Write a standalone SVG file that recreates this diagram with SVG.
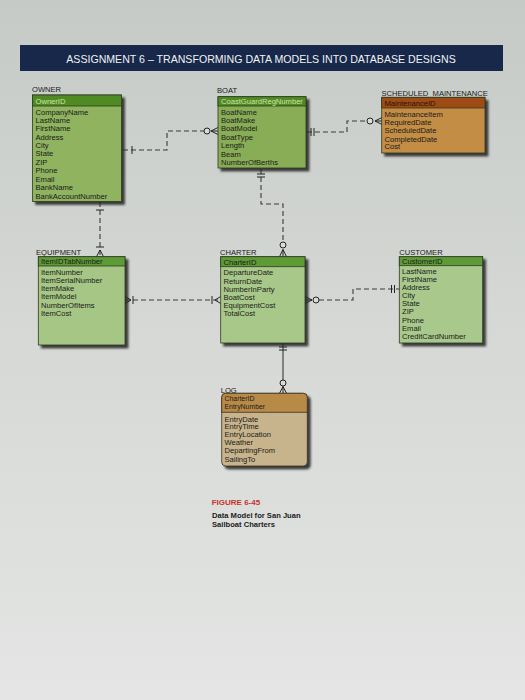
<svg xmlns="http://www.w3.org/2000/svg" width="525" height="700" viewBox="0 0 525 700">
<defs>
<linearGradient id="bg" x1="0" y1="0" x2="0" y2="1">
<stop offset="0" stop-color="#c6cac6"/>
<stop offset="0.5" stop-color="#d6d9d6"/>
<stop offset="1" stop-color="#e4e5e4"/>
</linearGradient>
<filter id="sh" x="-10%" y="-10%" width="130%" height="130%">
<feDropShadow dx="3" dy="3" stdDeviation="0.8" flood-color="#1a1a1a" flood-opacity="0.85"/>
</filter>
</defs>
<style>
text{font-family:"Liberation Sans",Arial,sans-serif;fill:#1a1a1a}
.lbl{font-size:7.6px}
.att{font-size:7.6px}
.hdr{font-size:7.6px}
.hdr2{font-size:6.9px}
.lt{fill:#cfe3a8}
.box{stroke:#2e3a22;stroke-width:0.8}
.dash{fill:none;stroke:#3a3a3a;stroke-width:1.1;stroke-dasharray:5,3}
.sol{fill:none;stroke:#3a3a3a;stroke-width:1.1}
.mk{fill:none;stroke:#222;stroke-width:1}
.ring{fill:#d8dbd8;stroke:#222;stroke-width:1}
</style>
<rect width="525" height="700" fill="url(#bg)"/>
<g id="title">
<rect x="20" y="45" width="483" height="26" fill="#17284a"/>
<text x="261" y="63" text-anchor="middle" style="font-size:10.6px;fill:#f2f2f2">ASSIGNMENT 6 – TRANSFORMING DATA MODELS INTO DATABASE DESIGNS</text>
</g>
<g id="connectors">
<path class="dash" d="M123,150 H167 V131 H204"/>
<line class="mk" x1="132" y1="146" x2="132" y2="154"/>
<circle class="ring" cx="207" cy="131" r="3"/>
<path class="mk" d="M218,127.5 L211,131 L218,134.5 M211,131 H218"/>
<path class="dash" d="M307,132 H347 V121 H367"/>
<line class="mk" x1="311" y1="128" x2="311" y2="136"/>
<line class="mk" x1="314" y1="128" x2="314" y2="136"/>
<circle class="ring" cx="370" cy="121" r="3"/>
<path class="mk" d="M382,117.5 L375,121 L382,124.5 M375,121 H382"/>
<path class="dash" d="M261,169 V204 H283 V242"/>
<line class="mk" x1="257" y1="174" x2="265" y2="174"/>
<line class="mk" x1="257" y1="177" x2="265" y2="177"/>
<circle class="ring" cx="283" cy="245" r="3"/>
<path class="mk" d="M279.5,256.7 L283,249.5 L286.5,256.7 M283,249.5 V256.7"/>
<path class="dash" d="M100,202 V256.7"/>
<line class="mk" x1="96" y1="210" x2="104" y2="210"/>
<line class="mk" x1="96" y1="247" x2="104" y2="247"/>
<path class="mk" d="M96.5,256.7 L100,250 L103.5,256.7"/>
<path class="dash" d="M125,300 H220.7"/>
<path class="mk" d="M125,296.5 L131,300 L125,303.5"/>
<line class="mk" x1="133" y1="296" x2="133" y2="304"/>
<line class="mk" x1="212" y1="296" x2="212" y2="304"/>
<path class="mk" d="M220.7,296.5 L215,300 L220.7,303.5"/>
<path class="dash" d="M319,300 H353 V289 H399"/>
<path class="mk" d="M305,296.5 L312,300 L305,303.5 M305,300 H312"/>
<circle class="ring" cx="316" cy="300" r="3"/>
<line class="mk" x1="391.5" y1="285" x2="391.5" y2="293"/>
<line class="mk" x1="394.5" y1="285" x2="394.5" y2="293"/>
<path class="sol" d="M283,343 V380"/>
<line class="mk" x1="279" y1="347" x2="287" y2="347"/>
<line class="mk" x1="279" y1="350" x2="287" y2="350"/>
<circle class="ring" cx="283" cy="383" r="3"/>
<path class="mk" d="M279.5,393.3 L283,386.5 L286.5,393.3 M283,386.5 V393.3"/>
</g>
<g id="owner">
<text class="lbl" x="32" y="92">OWNER</text>
<rect class="box" x="32.5" y="95" width="89" height="106.5" fill="#8fb35e" filter="url(#sh)"/>
<rect class="box" x="32.5" y="95" width="89" height="11" fill="#4f8a22"/>
<text class="hdr lt" x="35.5" y="103.5">OwnerID</text>
<text class="att" x="35.5" y="114.5">CompanyName</text>
<text class="att" x="35.5" y="122.8">LastName</text>
<text class="att" x="35.5" y="131.1">FirstName</text>
<text class="att" x="35.5" y="139.8">Address</text>
<text class="att" x="35.5" y="148">City</text>
<text class="att" x="35.5" y="156">State</text>
<text class="att" x="35.5" y="164.5">ZIP</text>
<text class="att" x="35.5" y="173.3">Phone</text>
<text class="att" x="35.5" y="181.8">Email</text>
<text class="att" x="35.5" y="190.4">BankName</text>
<text class="att" x="35.5" y="198.8">BankAccountNumber</text>
</g>
<g id="boat">
<text class="lbl" x="217" y="93">BOAT</text>
<rect class="box" x="218" y="96.7" width="88" height="71.3" fill="#88ad56" filter="url(#sh)"/>
<rect class="box" x="218" y="96.7" width="88" height="9.3" fill="#4f8a22"/>
<text class="hdr lt" x="221" y="104.3">CoastGuardRegNumber</text>
<text class="att" x="221" y="115">BoatName</text>
<text class="att" x="221" y="123">BoatMake</text>
<text class="att" x="221" y="131.4">BoatModel</text>
<text class="att" x="221" y="139.8">BoatType</text>
<text class="att" x="221" y="148.4">Length</text>
<text class="att" x="221" y="156.8">Beam</text>
<text class="att" x="221" y="165">NumberOfBerths</text>
</g>
<g id="scheduled_maintenance">
<text class="lbl" x="381.5" y="95.5">SCHEDULED_MAINTENANCE</text>
<rect class="box" x="381.7" y="97.3" width="103.3" height="55.7" fill="#c38d44" stroke="#3a2410" filter="url(#sh)"/>
<rect class="box" x="381.7" y="97.3" width="103.3" height="10.7" fill="#9e4c16" stroke="#3a2410"/>
<text class="hdr" x="384.5" y="105.6" style="fill:#2a1206">MaintenanceID</text>
<text class="att" x="384.5" y="116.6">MaintenanceItem</text>
<text class="att" x="384.5" y="124.6">RequiredDate</text>
<text class="att" x="384.5" y="133">ScheduledDate</text>
<text class="att" x="384.5" y="141.6">CompletedDate</text>
<text class="att" x="384.5" y="149.4">Cost</text>
</g>
<g id="equipment">
<text class="lbl" x="36" y="255">EQUIPMENT</text>
<rect class="box" x="38.3" y="256.7" width="86.7" height="88.3" fill="#a6c686" filter="url(#sh)"/>
<rect class="box" x="38.3" y="256.7" width="86.7" height="9.3" fill="#5e9a36"/>
<text class="hdr" x="41" y="264.3">ItemIDTabNumber</text>
<text class="att" x="41" y="275">ItemNumber</text>
<text class="att" x="41" y="283.4">ItemSerialNumber</text>
<text class="att" x="41" y="291.4">ItemMake</text>
<text class="att" x="41" y="299.4">ItemModel</text>
<text class="att" x="41" y="307.7">NumberOfItems</text>
<text class="att" x="41" y="316">ItemCost</text>
</g>
<g id="charter">
<text class="lbl" x="220" y="255">CHARTER</text>
<rect class="box" x="220.7" y="256.7" width="84.3" height="86.3" fill="#a8c88a" filter="url(#sh)"/>
<rect class="box" x="220.7" y="256.7" width="84.3" height="10" fill="#5e9a36"/>
<text class="hdr" x="223.5" y="264.6">CharterID</text>
<text class="att" x="223.5" y="275.4">DepartureDate</text>
<text class="att" x="223.5" y="283.7">ReturnDate</text>
<text class="att" x="223.5" y="291.7">NumberInParty</text>
<text class="att" x="223.5" y="299.7">BoatCost</text>
<text class="att" x="223.5" y="307.7">EquipmentCost</text>
<text class="att" x="223.5" y="316">TotalCost</text>
</g>
<g id="customer">
<text class="lbl" x="399.3" y="255">CUSTOMER</text>
<rect class="box" x="399.3" y="256.7" width="83.4" height="86.3" fill="#a9c98c" filter="url(#sh)"/>
<rect class="box" x="399.3" y="256.7" width="83.4" height="9" fill="#5e9a36"/>
<text class="hdr" x="402" y="264">CustomerID</text>
<text class="att" x="402" y="274.4">LastName</text>
<text class="att" x="402" y="282.4">FirstName</text>
<text class="att" x="402" y="290.4">Address</text>
<text class="att" x="402" y="298.4">City</text>
<text class="att" x="402" y="306">State</text>
<text class="att" x="402" y="314.4">ZIP</text>
<text class="att" x="402" y="322.7">Phone</text>
<text class="att" x="402" y="331">Email</text>
<text class="att" x="402" y="339.4">CreditCardNumber</text>
</g>
<g id="log">
<text class="lbl" x="220.7" y="392.5">LOG</text>
<rect x="221.7" y="393.3" width="85.6" height="72.7" rx="4" fill="#c8b48c" stroke="#3a3020" stroke-width="0.8" filter="url(#sh)"/>
<path d="M221.7,412.3 V397.3 A4,4 0 0 1 225.7,393.3 H303.3 A4,4 0 0 1 307.3,397.3 V412.3 Z" fill="#b88a48" stroke="#3a3020" stroke-width="0.8"/>
<text class="hdr2" x="224.5" y="401.2">CharterID</text>
<text class="hdr2" x="224.5" y="409.4">EntryNumber</text>
<text class="att" x="224.5" y="421.6">EntryDate</text>
<text class="att" x="224.5" y="429.3">EntryTime</text>
<text class="att" x="224.5" y="437.3">EntryLocation</text>
<text class="att" x="224.5" y="445.3">Weather</text>
<text class="att" x="224.5" y="453.3">DepartingFrom</text>
<text class="att" x="224.5" y="461.9">SailingTo</text>
</g>
<g id="caption">
<text x="211.7" y="504.5" style="font-size:8px;font-weight:bold;fill:#c6352b">FIGURE 6-45</text>
<text x="212" y="518" style="font-size:7.6px;font-weight:bold;fill:#222">Data Model for San Juan</text>
<text x="212" y="527" style="font-size:7.6px;font-weight:bold;fill:#222">Sailboat Charters</text>
</g>
</svg>
